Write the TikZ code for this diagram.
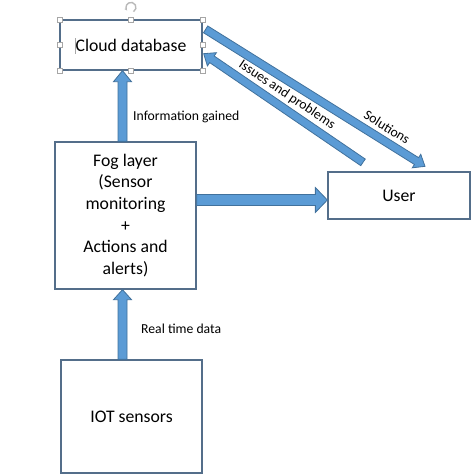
\documentclass[tikz,border=0pt]{standalone}
\usepackage{fontspec}
\setmainfont{Carlito}
\usetikzlibrary{calc,arrows.meta}

\definecolor{arrowblue}{HTML}{5B9BD5}
\definecolor{arrowedge}{HTML}{41719C}
\definecolor{boxedge}{RGB}{84,110,138}

\tikzset{
  box/.style={draw=boxedge, line width=1.3pt, fill=white, inner sep=0pt, align=center,
              font=\fontsize{17.7}{21.7}\selectfont},
  lbl/.style={font=\fontsize{13.7}{16}\selectfont, inner sep=0pt},
  fat/.style={fill=arrowblue, draw=arrowedge, line width=0.8pt, line join=miter},
  handle/.style={draw=gray!70, fill=white, line width=0.6pt, minimum size=5pt, inner sep=0pt}
}

% block arrow: {shaft half width}{head half width}{head length}{from}{to}
\newcommand{\fatarrow}[5]{%
  \path #4 coordinate (fatA) #5 coordinate (fatB);
  \draw[fat] let \p1=($(fatB)-(fatA)$), \n1={atan2(\y1,\x1)}, \n2={veclen(\x1,\y1)} in
    [shift={(fatA)}, rotate=\n1]
    (0,-#1) -- ({\n2-#3},-#1) -- ({\n2-#3},-#2) -- (\n2,0) -- ({\n2-#3},#2)
    -- ({\n2-#3},#1) -- (0,#1) -- cycle;
}

\begin{document}
\begin{tikzpicture}[x=1pt, y=-1pt]
  \useasboundingbox (0,0) rectangle (474,474);

  \draw (131,45) node[box, minimum width=142pt, minimum height=50pt] (cloud) {Cloud database};
  \draw (125.5,215.5) node[box, minimum width=141pt, minimum height=147pt] (fog)
    {Fog layer\\(Sensor\\monitoring\\+\\Actions and\\alerts)};
  \draw (131.5,416.5) node[box, minimum width=141pt, minimum height=113pt] (iot) {IOT sensors};
  \draw (399,195.5) node[box, minimum width=142pt, minimum height=47pt] (user) {User};

  % selection handles on the cloud box
  \coordinate (rot) at ($(cloud.north)+(0,-12)$);
  \draw[gray!55, line width=1.4pt, -{Stealth[length=3pt]}] ($(rot)+(60:5)$) arc (60:-220:5);
  \foreach \a in {north west, north, north east, east, south east, south, south west, west}
    \node[handle] at (cloud.\a) {};
  \draw[gray!70, line width=0.7pt] (75,38) -- (75,54);

  \fatarrow{4.5}{9}{10}{($(iot.north)+(-9,0)$)}{($(fog.south)+(-3,0)$)}
  \fatarrow{4.5}{9}{11}{($(fog.north)+(-3,0)$)}{($(cloud.south)+(-8.5,0)$)}
  \fatarrow{5.5}{12.5}{12}{($(fog.east)+(0,-15.5)$)}{($(user.west)+(0,4.5)$)}
  \fatarrow{4}{8}{10}{($(cloud.north east)+(3,10)$)}{($(user.north)+(26,-5)$)}
  \fatarrow{4}{8}{10}{($(user.north)+(-36,-9)$)}{($(cloud.south east)+(1,-17)$)}

  \draw (133,117) node[lbl, anchor=west] (info) {Information gained};
  \draw (141,329) node[lbl, anchor=west] (rtd) {Real time data};
  \draw (287,95) node[lbl, rotate=-34] (issues) {Issues and problems};
  \draw (387,127) node[lbl, rotate=-32] (sol) {Solutions};
\end{tikzpicture}
\end{document}
